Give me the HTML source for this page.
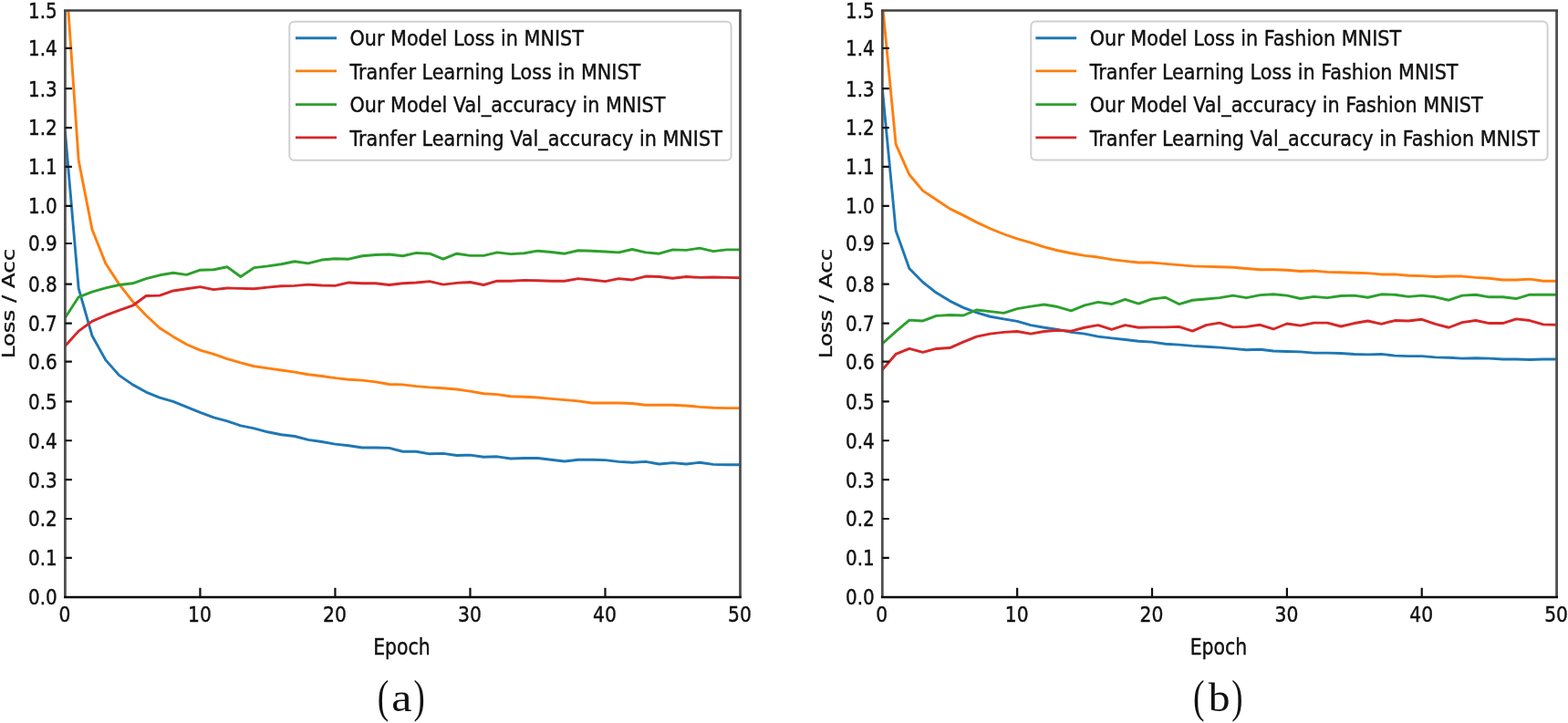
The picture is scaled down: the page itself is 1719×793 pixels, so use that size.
<!DOCTYPE html><html><head><meta charset="utf-8"><style>html,body{margin:0;padding:0;background:#fff;overflow:hidden;}svg{display:block}text{font-family:"DejaVu Sans","Liberation Sans",sans-serif;fill:#111;stroke:#111;stroke-width:0.45px}.cap{font-family:"Liberation Serif","DejaVu Serif",serif;fill:#111;stroke:none}</style></head><body>
<svg width="1719" height="793" viewBox="0 0 1719 793">
<rect width="1719" height="793" fill="#fff"/>
<clipPath id="clipa"><rect x="71.4" y="11.4" width="740.1" height="643.4"/></clipPath>
<g clip-path="url(#clipa)" fill="none" stroke-width="2.9" stroke-linejoin="round" stroke-linecap="butt">
<polyline stroke="#1f77b4" points="71.4,144.37 86.2,316.37 101,368.27 115.81,394.87 130.61,411.59 145.41,421.89 160.21,430.04 175.01,436.04 189.82,440.33 204.62,446.34 219.42,452.34 234.22,457.92 249.02,461.78 263.83,466.93 278.63,469.93 293.43,473.79 308.23,476.79 323.03,478.51 337.84,482.37 352.64,484.51 367.44,487.09 382.24,488.8 397.04,490.95 411.85,490.95 426.65,491.38 441.45,495.24 456.25,495.24 471.05,497.81 485.86,497.38 500.66,499.53 515.46,499.1 530.26,501.24 545.06,500.81 559.87,502.96 574.67,502.53 589.47,502.53 604.27,504.24 619.07,505.96 633.88,504.24 648.68,504.24 663.48,504.67 678.28,506.39 693.08,507.25 707.89,506.39 722.69,508.96 737.49,507.68 752.29,508.96 767.09,507.25 781.9,509.39 796.7,509.82 811.5,509.82"/>
<polyline stroke="#ff7f0e" points="71.4,-40.07 86.2,176.11 101,251.6 115.81,288.92 130.61,311.65 145.41,330.53 160.21,345.97 175.01,359.69 189.82,369.13 204.62,377.71 219.42,384.14 234.22,388.43 249.02,393.58 263.83,397.87 278.63,401.73 293.43,403.87 308.23,406.02 323.03,408.16 337.84,410.74 352.64,412.45 367.44,414.6 382.24,416.31 397.04,417.17 411.85,418.89 426.65,421.46 441.45,421.89 456.25,423.6 471.05,424.89 485.86,425.75 500.66,427.04 515.46,429.18 530.26,431.75 545.06,432.61 559.87,434.76 574.67,435.19 589.47,436.04 604.27,437.33 619.07,438.62 633.88,439.9 648.68,442.05 663.48,442.05 678.28,442.05 693.08,442.48 707.89,444.19 722.69,444.19 737.49,444.19 752.29,445.05 767.09,446.34 781.9,447.2 796.7,447.63 811.5,447.63"/>
<polyline stroke="#2ca02c" points="71.4,348.54 86.2,325.81 101,320.23 115.81,315.94 130.61,312.51 145.41,310.8 160.21,305.65 175.01,301.79 189.82,299.21 204.62,301.36 219.42,296.21 234.22,295.78 249.02,292.78 263.83,303.5 278.63,293.64 293.43,291.92 308.23,289.78 323.03,286.78 337.84,288.92 352.64,285.06 367.44,283.77 382.24,284.2 397.04,280.77 411.85,279.48 426.65,279.05 441.45,280.77 456.25,277.34 471.05,278.2 485.86,284.2 500.66,278.2 515.46,280.34 530.26,280.34 545.06,276.91 559.87,278.63 574.67,277.77 589.47,275.19 604.27,276.48 619.07,278.2 633.88,274.77 648.68,275.19 663.48,276.05 678.28,276.91 693.08,273.48 707.89,276.91 722.69,278.2 737.49,273.91 752.29,274.34 767.09,272.19 781.9,275.62 796.7,273.91 811.5,273.91"/>
<polyline stroke="#d62728" points="71.4,379.42 86.2,363.13 101,352.4 115.81,345.97 130.61,340.39 145.41,335.24 160.21,324.52 175.01,324.09 189.82,318.95 204.62,316.8 219.42,314.66 234.22,317.66 249.02,315.94 263.83,316.37 278.63,316.8 293.43,315.08 308.23,313.8 323.03,313.37 337.84,312.08 352.64,312.94 367.44,313.37 382.24,309.94 397.04,310.8 411.85,310.8 426.65,312.51 441.45,310.8 456.25,309.94 471.05,308.65 485.86,312.08 500.66,310.37 515.46,309.51 530.26,312.51 545.06,308.22 559.87,308.22 574.67,307.36 589.47,307.79 604.27,308.22 619.07,308.22 633.88,305.65 648.68,306.94 663.48,308.65 678.28,305.65 693.08,306.94 707.89,303.07 722.69,303.5 737.49,305.22 752.29,303.5 767.09,304.36 781.9,303.93 796.7,304.36 811.5,304.79"/>
</g>
<path d="M71.4,11.4V654.8M811.5,11.4V654.8" stroke="#505050" stroke-width="2.8" fill="none"/>
<path d="M70,11.4H812.9" stroke="#404040" stroke-width="2.5" fill="none"/>
<path d="M70,655H812.9" stroke="#000" stroke-width="2.3" fill="none"/>
<path d="M71.4,611.91h7.5M71.4,569.01h7.5M71.4,526.12h7.5M71.4,483.23h7.5M71.4,440.33h7.5M71.4,396.6h7.5M71.4,354.55h7.5M71.4,311.65h7.5M71.4,267h7.5M71.4,225.87h7.5M71.4,182.97h7.5M71.4,140.08h7.5M71.4,97.19h7.5M71.4,52.8h7.5M219.42,654.8v-10M367.44,654.8v-10M515.46,654.8v-10M663.48,654.8v-10" stroke="#111" stroke-width="2.2" fill="none"/>
<text transform="translate(62.8,663.2) scale(0.86,1)" text-anchor="end" font-size="23.2">0.0</text>
<text transform="translate(62.8,620.31) scale(0.86,1)" text-anchor="end" font-size="23.2">0.1</text>
<text transform="translate(62.8,577.41) scale(0.86,1)" text-anchor="end" font-size="23.2">0.2</text>
<text transform="translate(62.8,534.52) scale(0.86,1)" text-anchor="end" font-size="23.2">0.3</text>
<text transform="translate(62.8,491.63) scale(0.86,1)" text-anchor="end" font-size="23.2">0.4</text>
<text transform="translate(62.8,448.73) scale(0.86,1)" text-anchor="end" font-size="23.2">0.5</text>
<text transform="translate(62.8,405) scale(0.86,1)" text-anchor="end" font-size="23.2">0.6</text>
<text transform="translate(62.8,362.95) scale(0.86,1)" text-anchor="end" font-size="23.2">0.7</text>
<text transform="translate(62.8,320.05) scale(0.86,1)" text-anchor="end" font-size="23.2">0.8</text>
<text transform="translate(62.8,275.4) scale(0.86,1)" text-anchor="end" font-size="23.2">0.9</text>
<text transform="translate(62.8,234.27) scale(0.86,1)" text-anchor="end" font-size="23.2">1.0</text>
<text transform="translate(62.8,191.37) scale(0.86,1)" text-anchor="end" font-size="23.2">1.1</text>
<text transform="translate(62.8,148.48) scale(0.86,1)" text-anchor="end" font-size="23.2">1.2</text>
<text transform="translate(62.8,105.59) scale(0.86,1)" text-anchor="end" font-size="23.2">1.3</text>
<text transform="translate(62.8,61.2) scale(0.86,1)" text-anchor="end" font-size="23.2">1.4</text>
<text transform="translate(62.8,19.8) scale(0.86,1)" text-anchor="end" font-size="23.2">1.5</text>
<text transform="translate(70.9,682.2) scale(0.86,1)" text-anchor="middle" font-size="23.6">0</text>
<text transform="translate(218.92,682.2) scale(0.86,1)" text-anchor="middle" font-size="23.6">10</text>
<text transform="translate(366.94,682.2) scale(0.86,1)" text-anchor="middle" font-size="23.6">20</text>
<text transform="translate(514.96,682.2) scale(0.86,1)" text-anchor="middle" font-size="23.6">30</text>
<text transform="translate(662.98,682.2) scale(0.86,1)" text-anchor="middle" font-size="23.6">40</text>
<text transform="translate(811,682.2) scale(0.86,1)" text-anchor="middle" font-size="23.6">50</text>
<text transform="translate(440.45,717.6) scale(0.83,1)" text-anchor="middle" font-size="24.6">Epoch</text>
<text transform="translate(15.8,333.1) scale(0.82,1) rotate(-90)" text-anchor="middle" font-size="24.4">Loss / Acc</text>
<text class="cap" transform="translate(413.8,781.3) scale(0.74,1)" font-size="50.9">(</text>
<text class="cap" transform="translate(429.3,780.4) scale(1.12,1)" font-size="44.6">a</text>
<text class="cap" transform="translate(453.5,781.3) scale(0.725,1)" font-size="50.9">)</text>
<rect x="317.3" y="23.7" width="484.3" height="152.1" rx="5" ry="5" fill="#fff" fill-opacity="0.8" stroke="#d0d0d0" stroke-width="2"/>
<path d="M324,41.8H369" stroke="#1f77b4" stroke-width="2.9"/>
<text transform="translate(383.4,50.4) scale(0.887,1)" font-size="23.4">Our Model Loss in MNIST</text>
<path d="M324,77.9H369" stroke="#ff7f0e" stroke-width="2.9"/>
<text transform="translate(383.4,86.5) scale(0.887,1)" font-size="23.4">Tranfer Learning Loss in MNIST</text>
<path d="M324,114.6H369" stroke="#2ca02c" stroke-width="2.9"/>
<text transform="translate(383.4,123.2) scale(0.887,1)" font-size="23.4">Our Model Val_accuracy in MNIST</text>
<path d="M324,150.9H369" stroke="#d62728" stroke-width="2.9"/>
<text transform="translate(383.4,159.5) scale(0.887,1)" font-size="23.4">Tranfer Learning Val_accuracy in MNIST</text>
<clipPath id="clipb"><rect x="967.3" y="11.4" width="739.3" height="643.4"/></clipPath>
<g clip-path="url(#clipb)" fill="none" stroke-width="2.9" stroke-linejoin="round" stroke-linecap="butt">
<polyline stroke="#1f77b4" points="967.3,97.19 982.09,252.89 996.87,294.5 1011.66,309.51 1026.44,321.09 1041.23,330.1 1056.02,337.39 1070.8,342.97 1085.59,347.25 1100.37,349.83 1115.16,352.4 1129.95,356.69 1144.73,359.26 1159.52,361.41 1174.3,364.41 1189.09,366.13 1203.88,369.13 1218.66,370.85 1233.45,372.56 1248.23,374.28 1263.02,375.14 1277.81,377.28 1292.59,378.14 1307.38,379.42 1322.16,380.28 1336.95,381.14 1351.74,382.43 1366.52,383.71 1381.31,383.29 1396.09,385 1410.88,385.43 1425.67,385.86 1440.45,387.15 1455.24,387.15 1470.02,387.57 1484.81,388.43 1499.6,388.86 1514.38,388.43 1529.17,390.15 1543.95,390.58 1558.74,390.58 1573.53,391.86 1588.31,392.29 1603.1,393.15 1617.88,392.72 1632.67,393.15 1647.46,394.01 1662.24,394.01 1677.03,394.44 1691.81,394.01 1706.6,394.01"/>
<polyline stroke="#ff7f0e" points="967.3,2.82 982.09,158.1 996.87,191.55 1011.66,209.14 1026.44,219 1041.23,228.87 1056.02,236.16 1070.8,243.88 1085.59,250.74 1100.37,256.75 1115.16,261.9 1129.95,266.19 1144.73,270.9 1159.52,274.77 1174.3,277.77 1189.09,280.34 1203.88,282.06 1218.66,284.63 1233.45,286.35 1248.23,288.06 1263.02,288.06 1277.81,289.35 1292.59,290.64 1307.38,291.92 1322.16,292.35 1336.95,292.78 1351.74,293.21 1366.52,294.5 1381.31,295.78 1396.09,295.78 1410.88,296.21 1425.67,297.5 1440.45,297.07 1455.24,298.36 1470.02,298.79 1484.81,299.21 1499.6,299.64 1514.38,300.93 1529.17,300.93 1543.95,302.22 1558.74,302.65 1573.53,303.5 1588.31,303.07 1603.1,303.07 1617.88,304.36 1632.67,305.22 1647.46,306.94 1662.24,306.94 1677.03,306.08 1691.81,308.22 1706.6,308.22"/>
<polyline stroke="#2ca02c" points="967.3,376.85 982.09,363.55 996.87,351.12 1011.66,351.97 1026.44,346.4 1041.23,345.54 1056.02,345.97 1070.8,339.96 1085.59,341.68 1100.37,343.39 1115.16,338.68 1129.95,336.1 1144.73,333.96 1159.52,336.53 1174.3,340.82 1189.09,334.82 1203.88,331.38 1218.66,333.53 1233.45,328.38 1248.23,333.1 1263.02,327.95 1277.81,326.24 1292.59,333.53 1307.38,329.24 1322.16,327.95 1336.95,326.67 1351.74,324.09 1366.52,326.67 1381.31,323.66 1396.09,322.81 1410.88,324.09 1425.67,327.52 1440.45,325.38 1455.24,326.67 1470.02,324.52 1484.81,324.09 1499.6,326.24 1514.38,322.81 1529.17,323.23 1543.95,325.38 1558.74,324.09 1573.53,325.81 1588.31,329.24 1603.1,324.09 1617.88,323.23 1632.67,325.81 1647.46,325.81 1662.24,327.52 1677.03,323.23 1691.81,323.23 1706.6,323.23"/>
<polyline stroke="#d62728" points="967.3,405.59 982.09,388.43 996.87,382.43 1011.66,386.29 1026.44,382.43 1041.23,381.57 1056.02,375.14 1070.8,369.13 1085.59,366.13 1100.37,364.41 1115.16,363.55 1129.95,366.13 1144.73,363.55 1159.52,362.27 1174.3,363.13 1189.09,359.26 1203.88,356.69 1218.66,361.41 1233.45,356.69 1248.23,359.26 1263.02,358.84 1277.81,358.84 1292.59,358.41 1307.38,363.13 1322.16,356.69 1336.95,354.12 1351.74,358.84 1366.52,358.41 1381.31,356.26 1396.09,360.98 1410.88,354.98 1425.67,357.12 1440.45,354.12 1455.24,354.12 1470.02,357.98 1484.81,354.55 1499.6,351.97 1514.38,355.4 1529.17,351.54 1543.95,351.97 1558.74,350.26 1573.53,355.4 1588.31,359.26 1603.1,353.69 1617.88,351.54 1632.67,354.55 1647.46,354.55 1662.24,349.83 1677.03,351.54 1691.81,355.83 1706.6,356.26"/>
</g>
<path d="M967.3,11.4V654.8M1706.6,11.4V654.8" stroke="#505050" stroke-width="2.8" fill="none"/>
<path d="M965.9,11.4H1708" stroke="#404040" stroke-width="2.5" fill="none"/>
<path d="M965.9,655H1708" stroke="#000" stroke-width="2.3" fill="none"/>
<path d="M967.3,611.91h7.5M967.3,569.01h7.5M967.3,526.12h7.5M967.3,483.23h7.5M967.3,440.33h7.5M967.3,396.6h7.5M967.3,354.55h7.5M967.3,311.65h7.5M967.3,267h7.5M967.3,225.87h7.5M967.3,182.97h7.5M967.3,140.08h7.5M967.3,97.19h7.5M967.3,52.8h7.5M1115.16,654.8v-10M1263.02,654.8v-10M1410.88,654.8v-10M1558.74,654.8v-10" stroke="#111" stroke-width="2.2" fill="none"/>
<text transform="translate(958.7,663.2) scale(0.86,1)" text-anchor="end" font-size="23.2">0.0</text>
<text transform="translate(958.7,620.31) scale(0.86,1)" text-anchor="end" font-size="23.2">0.1</text>
<text transform="translate(958.7,577.41) scale(0.86,1)" text-anchor="end" font-size="23.2">0.2</text>
<text transform="translate(958.7,534.52) scale(0.86,1)" text-anchor="end" font-size="23.2">0.3</text>
<text transform="translate(958.7,491.63) scale(0.86,1)" text-anchor="end" font-size="23.2">0.4</text>
<text transform="translate(958.7,448.73) scale(0.86,1)" text-anchor="end" font-size="23.2">0.5</text>
<text transform="translate(958.7,405) scale(0.86,1)" text-anchor="end" font-size="23.2">0.6</text>
<text transform="translate(958.7,362.95) scale(0.86,1)" text-anchor="end" font-size="23.2">0.7</text>
<text transform="translate(958.7,320.05) scale(0.86,1)" text-anchor="end" font-size="23.2">0.8</text>
<text transform="translate(958.7,275.4) scale(0.86,1)" text-anchor="end" font-size="23.2">0.9</text>
<text transform="translate(958.7,234.27) scale(0.86,1)" text-anchor="end" font-size="23.2">1.0</text>
<text transform="translate(958.7,191.37) scale(0.86,1)" text-anchor="end" font-size="23.2">1.1</text>
<text transform="translate(958.7,148.48) scale(0.86,1)" text-anchor="end" font-size="23.2">1.2</text>
<text transform="translate(958.7,105.59) scale(0.86,1)" text-anchor="end" font-size="23.2">1.3</text>
<text transform="translate(958.7,61.2) scale(0.86,1)" text-anchor="end" font-size="23.2">1.4</text>
<text transform="translate(958.7,19.8) scale(0.86,1)" text-anchor="end" font-size="23.2">1.5</text>
<text transform="translate(966.8,682.2) scale(0.86,1)" text-anchor="middle" font-size="23.6">0</text>
<text transform="translate(1114.66,682.2) scale(0.86,1)" text-anchor="middle" font-size="23.6">10</text>
<text transform="translate(1262.52,682.2) scale(0.86,1)" text-anchor="middle" font-size="23.6">20</text>
<text transform="translate(1410.38,682.2) scale(0.86,1)" text-anchor="middle" font-size="23.6">30</text>
<text transform="translate(1558.24,682.2) scale(0.86,1)" text-anchor="middle" font-size="23.6">40</text>
<text transform="translate(1706.1,682.2) scale(0.86,1)" text-anchor="middle" font-size="23.6">50</text>
<text transform="translate(1335.95,717.6) scale(0.83,1)" text-anchor="middle" font-size="24.6">Epoch</text>
<text transform="translate(911.7,333.1) scale(0.82,1) rotate(-90)" text-anchor="middle" font-size="24.4">Loss / Acc</text>
<text class="cap" transform="translate(1308.1,781.3) scale(0.74,1)" font-size="50.9">(</text>
<text class="cap" transform="translate(1324.8,780.2) scale(1.07,1)" font-size="44.4">b</text>
<text class="cap" transform="translate(1350.3,781.3) scale(0.725,1)" font-size="50.9">)</text>
<rect x="1130.3" y="23.6" width="566.3" height="152" rx="5" ry="5" fill="#fff" fill-opacity="0.8" stroke="#d0d0d0" stroke-width="2"/>
<path d="M1135.4,41.8H1180.1" stroke="#1f77b4" stroke-width="2.9"/>
<text transform="translate(1194.7,50.4) scale(0.887,1)" font-size="23.4">Our Model Loss in Fashion MNIST</text>
<path d="M1135.4,77.9H1180.1" stroke="#ff7f0e" stroke-width="2.9"/>
<text transform="translate(1194.7,86.5) scale(0.887,1)" font-size="23.4">Tranfer Learning Loss in Fashion MNIST</text>
<path d="M1135.4,114.6H1180.1" stroke="#2ca02c" stroke-width="2.9"/>
<text transform="translate(1194.7,123.2) scale(0.887,1)" font-size="23.4">Our Model Val_accuracy in Fashion MNIST</text>
<path d="M1135.4,150.9H1180.1" stroke="#d62728" stroke-width="2.9"/>
<text transform="translate(1194.7,159.5) scale(0.887,1)" font-size="23.4">Tranfer Learning Val_accuracy in Fashion MNIST</text>
</svg></body></html>
